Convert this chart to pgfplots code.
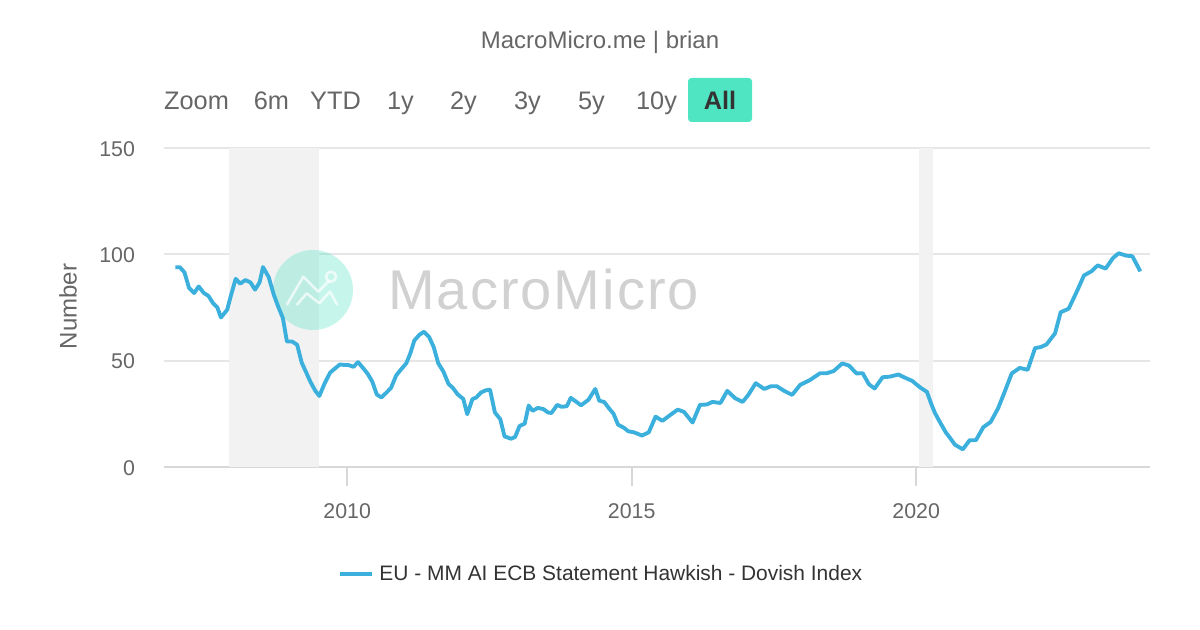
\documentclass[border=0pt]{standalone}
\usepackage{fontspec}
\setmainfont{Liberation Sans}
\usepackage{pgfplots}
\pgfplotsset{compat=1.18}
\usepackage{pgfplotstable}
\definecolor{txt}{HTML}{666666}
\definecolor{linec}{HTML}{3BB0DC}
\definecolor{gridc}{HTML}{E6E6E6}
\definecolor{axisc}{HTML}{D8D8D8}
\definecolor{bandc}{HTML}{F2F2F2}
\definecolor{btn}{HTML}{50E5C2}
\pgfplotstableread{
year value
2006.98 93.9
2007.06 93.9
2007.14 91.5
2007.22 84.2
2007.31 81.8
2007.39 84.9
2007.48 81.8
2007.56 80.5
2007.64 77.1
2007.72 74.9
2007.78 70.3
2007.89 73.9
2007.96 81.0
2008.04 88.5
2008.12 86.2
2008.21 87.9
2008.30 86.8
2008.38 83.4
2008.46 86.8
2008.52 94.0
2008.62 89.3
2008.71 81.0
2008.79 75.2
2008.87 70.0
2008.94 59.0
2009.03 59.0
2009.12 57.5
2009.20 49.1
2009.28 44.4
2009.36 39.7
2009.44 35.8
2009.51 33.4
2009.60 39.1
2009.70 44.4
2009.78 46.2
2009.87 48.2
2009.95 48.0
2010.03 47.9
2010.11 47.1
2010.19 49.3
2010.28 46.5
2010.36 43.8
2010.44 40.2
2010.52 34.1
2010.60 32.7
2010.69 35.0
2010.77 37.2
2010.86 43.0
2010.94 45.7
2011.04 48.8
2011.11 53.5
2011.18 59.5
2011.27 62.2
2011.35 63.6
2011.44 61.1
2011.52 56.4
2011.60 48.8
2011.69 44.9
2011.78 39.1
2011.86 37.1
2011.94 34.2
2012.04 32.0
2012.11 24.8
2012.20 31.9
2012.27 32.7
2012.35 35.0
2012.43 36.0
2012.51 36.4
2012.595 25.7
2012.69 22.5
2012.765 14.4
2012.88 13.3
2012.95 14.1
2013.03 19.3
2013.12 20.4
2013.19 28.9
2013.26 26.4
2013.35 27.8
2013.45 27.2
2013.53 25.6
2013.59 25.4
2013.69 29.2
2013.77 28.3
2013.86 28.6
2013.93 32.5
2014.02 30.8
2014.11 29.0
2014.24 31.6
2014.36 36.7
2014.43 31.2
2014.52 30.5
2014.60 27.6
2014.68 25.1
2014.76 19.9
2014.86 18.5
2014.94 16.8
2015.04 16.3
2015.18 14.8
2015.30 16.3
2015.42 23.7
2015.54 21.7
2015.68 24.5
2015.81 27.0
2015.92 25.9
2016.07 20.9
2016.20 29.2
2016.32 29.4
2016.42 30.6
2016.56 30.1
2016.68 35.8
2016.82 32.3
2016.95 30.6
2017.05 33.9
2017.18 39.4
2017.33 36.7
2017.45 38.0
2017.55 38.0
2017.68 35.8
2017.82 33.9
2017.96 38.6
2018.14 41.0
2018.31 44.1
2018.43 44.1
2018.55 45.1
2018.70 48.7
2018.82 47.7
2018.95 44.0
2019.06 44.1
2019.17 38.9
2019.27 36.9
2019.41 42.2
2019.54 42.5
2019.69 43.5
2019.81 41.9
2019.93 40.5
2020.07 37.4
2020.19 35.3
2020.26 30.0
2020.33 25.4
2020.42 21.0
2020.52 16.3
2020.60 13.5
2020.68 10.5
2020.82 8.3
2020.94 12.6
2021.05 12.6
2021.18 18.7
2021.31 21.2
2021.44 27.6
2021.55 35.0
2021.68 44.0
2021.82 46.6
2021.96 45.7
2022.09 55.9
2022.19 56.4
2022.29 57.6
2022.44 62.8
2022.54 72.8
2022.68 74.4
2022.82 82.3
2022.95 90.1
2023.08 92.0
2023.19 94.8
2023.33 93.3
2023.46 98.3
2023.56 100.5
2023.69 99.4
2023.80 99.1
2023.94 92.0
}\indexdata
\begin{document}
\begin{tikzpicture}[x=0.75pt,y=-0.75pt]
\path[fill=white,use as bounding box] (0,0) rectangle (1200,630);
\coordinate (axorigin) at (164,467);
% title and range selector
\node[anchor=base,text=txt,font=\fontsize{18}{20}\selectfont] at (600,48.5) {MacroMicro.me | brian};
\fill[btn,rounded corners=2.5pt] (688,78) rectangle (752,122);
\foreach \cx/\lab in {196.5/Zoom,271.5/6m,335.5/YTD,400.5/1y,463.5/2y,527.5/3y,591.5/5y,656.5/10y}
  \node[anchor=base,text=txt,font=\fontsize{19}{21}\selectfont] at (\cx,109.5) {\lab};
\node[anchor=base,text=black!80,font=\fontsize{19}{21}\selectfont\bfseries] at (720,109.5) {All};
% base axis: bands, grid, ticks
\begin{axis}[
  at={(axorigin)},anchor=south west,
  scale only axis,width=739.5pt,height=239.25pt,
  xmin=2006.78,xmax=2024.11,ymin=0,ymax=150,
  axis x line=bottom,axis y line=left,
  axis line style={-},
  y axis line style={draw=none},
  x axis line style={axisc,line width=1.5pt},
  xtick={2010,2015,2020},ytick={0,50,100,150},
  ymajorgrids,
  grid style={gridc,line width=1.4pt},
  tick align=outside,
  xtick style={axisc,line width=1.5pt},
  x tick style={/pgfplots/major tick length=14pt},
  y tick style={draw=none,/pgfplots/major tick length=0pt},
  /pgf/number format/1000 sep={},
  /pgf/number format/assume math mode=true,
  ticklabel style={text=txt,font=\fontsize{16}{18}\selectfont},
  xticklabel style={yshift=-19.5pt},
  yticklabel style={xshift=-14pt,yshift=-0.7pt},
  ylabel={Number},
  ylabel style={at={(axis description cs:-0.0974,0.503)},anchor=center,text=txt,font=\fontsize{18}{20}\selectfont},
]
\addplot[draw=none,fill=bandc] coordinates {(2007.93,0) (2009.51,0) (2009.51,150) (2007.93,150)} -- cycle;
\addplot[draw=none,fill=bandc] coordinates {(2020.05,0) (2020.30,0) (2020.30,150) (2020.05,150)} -- cycle;
\end{axis}
% watermark
\fill[btn,opacity=0.32] (313,290) circle (40);
\begin{scope}[white,line width=1.9pt,opacity=0.7,line join=round]
\draw (286.7,305) -- (303.3,276.7) -- (318.3,291.7) -- (329.3,280.7);
\draw (296.7,305) -- (306.7,293.3) -- (319.3,303.3) -- (330,291.7) -- (337.3,305);
\draw (331,276.7) circle (5);
\end{scope}
\node[anchor=base west,text=black!18,inner sep=0pt,font=\fontsize{42}{50}\selectfont\addfontfeatures{LetterSpace=3.6}] at (388,310) {MacroMicro};
% data axis
\begin{axis}[
  at={(axorigin)},anchor=south west,
  scale only axis,width=739.5pt,height=239.25pt,
  xmin=2006.78,xmax=2024.11,ymin=0,ymax=150,
  hide axis,
  legend style={at={(axis description cs:0.4437,-0.3345)},anchor=center,draw=none,fill=none,
    font=\fontsize{15.7}{19}\selectfont,text=black!80,inner sep=0pt},
  legend image code/.code={\draw[linec,line width=2.9pt] (0,0) -- (24pt,0);\path[draw=none] (0,0) -- (27.5pt,0);},
  legend cell align=left,
]
\addplot[linec,line width=2.9pt,line join=round] table[x=year,y=value] {\indexdata};
\addlegendentry{EU - MM AI ECB Statement Hawkish - Dovish Index}
\end{axis}
\end{tikzpicture}
\end{document}
